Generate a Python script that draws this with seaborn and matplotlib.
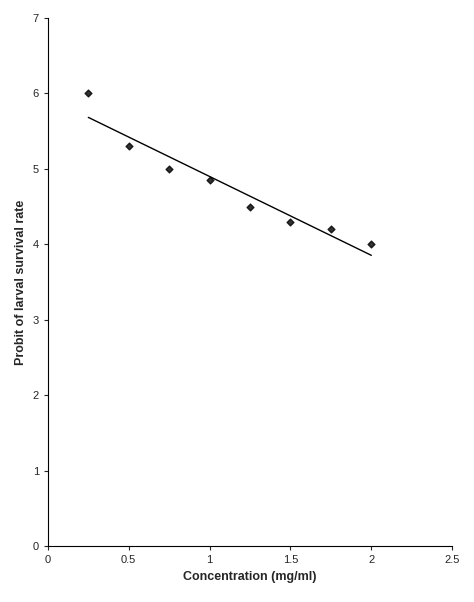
import matplotlib
matplotlib.use("Agg")
import matplotlib.pyplot as plt
import seaborn as sns
import pandas as pd

concentration = [0.25, 0.5, 0.75, 1.0, 1.25, 1.5, 1.75, 2.0]
probit = [6.0, 5.3, 5.0, 4.85, 4.5, 4.3, 4.2, 4.0]
xticks = [0, 0.5, 1, 1.5, 2, 2.5]
xticklabels = ["0", "0.5", "1", "1.5", "2", "2.5"]
yticks = [0, 1, 2, 3, 4, 5, 6, 7]

sns.set_style("white")
plt.rcParams['font.family'] = ['Liberation Sans', 'DejaVu Sans']
df = pd.DataFrame({"x": concentration, "y": probit})

fig = plt.figure(figsize=(4.74, 6.02), dpi=100)
ax = fig.add_axes([0.101, 0.093, 0.853, 0.877])
sns.regplot(data=df, x="x", y="y", ci=None, truncate=True, ax=ax,
            marker="D", scatter_kws=dict(s=12, color="black"),
            line_kws=dict(color="black", lw=1))
ax.set_xlim(0, 2.5)
ax.set_ylim(0, 7)
ax.set_xticks(xticks)
ax.set_xticklabels(xticklabels)
ax.set_yticks(yticks)
ax.tick_params(labelsize=8, direction="out", length=3, left=True, bottom=True)
for s in ["top", "right"]:
    ax.spines[s].set_visible(False)
for s in ["left", "bottom"]:
    ax.spines[s].set_color("black")
    ax.spines[s].set_linewidth(0.8)
ax.set_xlabel("Concentration (mg/ml)", fontsize=9, fontweight="bold")
ax.set_ylabel("Probit of larval survival rate", fontsize=9, fontweight="bold")
fig.savefig("out.png", dpi=100)
